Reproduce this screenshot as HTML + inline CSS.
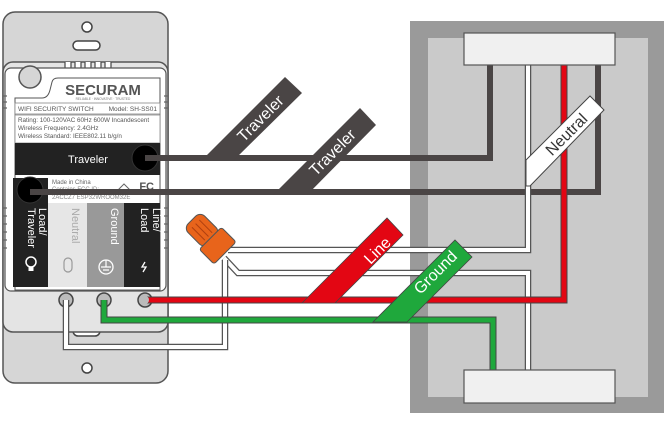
<!DOCTYPE html>
<html><head><meta charset="utf-8"><style>
html,body{margin:0;padding:0;background:#fff;}
svg{display:block;}
text{font-family:"Liberation Sans",sans-serif;}
</style></head><body>
<svg width="668" height="423" viewBox="0 0 668 423" xmlns="http://www.w3.org/2000/svg">
<rect x="410" y="21" width="254" height="392" fill="#9a9a9a"/>
<rect x="428" y="38" width="220" height="359" fill="#cacaca"/>

<rect x="3" y="12" width="165" height="371" rx="12" fill="#d6d6d6" stroke="#555" stroke-width="1.5"/>
<circle cx="87" cy="27" r="5" fill="#fff" stroke="#444" stroke-width="1.5"/>
<rect x="73" y="41" width="27" height="9" rx="4.5" fill="#fff" stroke="#444" stroke-width="1.5"/>
<circle cx="87" cy="368" r="5" fill="#fff" stroke="#444" stroke-width="1.5"/>
<rect x="73" y="326" width="27" height="10" rx="5" fill="#fff" stroke="#444" stroke-width="1.5"/>
<rect x="3" y="62" width="165" height="270" rx="10" fill="#e4e4e4" stroke="#555" stroke-width="1.5"/>
<path d="M65 62 v5 q0 3 3 3 q3 0 3 -3 v-5 M75 62 v5 q0 3 3 3 q3 0 3 -3 v-5 M85 62 v5 q0 3 3 3 q3 0 3 -3 v-5 M95 62 v5 q0 3 3 3 q3 0 3 -3 v-5 M105 62 v5 q0 3 3 3 q3 0 3 -3 v-5" fill="#fff" stroke="#444" stroke-width="1.2"/>
<rect x="5" y="68" width="161" height="223" rx="6" fill="#fff" stroke="#555" stroke-width="1.2"/>
<g fill="none" stroke="#666" stroke-width="1.2">
<path d="M3 96h4M3 102h4M3 108h4M164 96h4M164 102h4M164 108h4"/>
<path d="M3 208h4M3 216h4M3 224h4M3 232h4M3 240h4M3 248h4M164 208h4M164 216h4M164 224h4M164 232h4M164 240h4M164 248h4"/>
</g>
<circle cx="30" cy="77" r="11" fill="#d6d6d6" stroke="#555" stroke-width="1.5"/>
<path d="M15 98 L42 98 Q48 98 50 90 L52 82 Q53 78 58 78 L160 78 L160 290 L15 290 Z" fill="#fff" stroke="#555" stroke-width="1"/>
<text x="103" y="95" font-size="15" font-weight="bold" fill="#555" text-anchor="middle">SECURAM</text>
<text x="103" y="100" font-size="3.2" fill="#777" text-anchor="middle">RELIABLE · INNOVATIVE · TRUSTED</text>
<rect x="15" y="103" width="145" height="11" fill="#fff" stroke="#888" stroke-width="0.8"/>
<text x="18" y="111" font-size="6.5" fill="#555">WIFI SECURITY SWITCH</text>
<text x="157" y="111" font-size="6.5" fill="#555" text-anchor="end">Model: SH-SS01</text>
<rect x="15" y="115" width="145" height="28" fill="#fff" stroke="#888" stroke-width="0.8"/>
<text x="18" y="122" font-size="6.3" fill="#555">Rating: 100-120VAC 60Hz 600W Incandescent</text>
<text x="18" y="130" font-size="6.3" fill="#555">Wireless Frequency: 2.4GHz</text>
<text x="18" y="138" font-size="6.3" fill="#555">Wireless Standard: IEEE802.11 b/g/n</text>
<rect x="15" y="143" width="145" height="32" fill="#222"/>
<text x="88" y="163" font-size="11" fill="#fff" text-anchor="middle">Traveler</text>
<text x="52" y="184" font-size="6" fill="#666">Made in China</text>
<text x="52" y="191" font-size="6" fill="#888">Contains FCC ID:</text>
<text x="52" y="199" font-size="6" fill="#888">2ACCZ7 ESP32WROOM32E</text>
<text x="154" y="190" font-size="11" font-weight="bold" fill="#555" text-anchor="end">FC</text>
<path d="M118 190 l6 -6 l6 6" fill="none" stroke="#666" stroke-width="1"/>
<rect x="13" y="178" width="35" height="109" fill="#222"/>
<rect x="48" y="203" width="39" height="84" fill="#e6e6e6"/>
<rect x="87" y="203" width="37" height="84" fill="#999"/>
<rect x="124" y="203" width="36" height="84" fill="#222"/>
<g font-size="11" text-anchor="start">
<text transform="translate(39,208) rotate(90)" fill="#fff">Load/</text>
<text transform="translate(28,208) rotate(90)" fill="#fff">Traveler</text>
<text transform="translate(72,208) rotate(90)" fill="#aaa">Neutral</text>
<text transform="translate(111,208) rotate(90)" fill="#fff">Ground</text>
<text transform="translate(153,208) rotate(90)" fill="#fff">Line/</text>
<text transform="translate(141,208) rotate(90)" fill="#fff">Load</text>
</g>
<circle cx="31" cy="262" r="5" fill="none" stroke="#fff" stroke-width="1.5"/>
<rect x="28.5" y="267" width="5" height="4" fill="#fff"/>
<rect x="64" y="258" width="8" height="14" rx="4" fill="none" stroke="#999" stroke-width="1.2"/>
<circle cx="106" cy="267" r="7" fill="none" stroke="#fff" stroke-width="1.3"/>
<path d="M106 260 v7 M101 267 h10 M103 270 h6" stroke="#fff" stroke-width="1.2"/>
<path d="M145 262 l-3 5 h4 l-3 5" fill="none" stroke="#fff" stroke-width="1.3"/>
<g fill="#bbb" stroke="#444" stroke-width="1.5">
<circle cx="66" cy="300" r="7"/><circle cx="104" cy="300" r="7"/><circle cx="145" cy="300" r="7"/>
</g>
<circle cx="145" cy="158" r="13" fill="#000" stroke="#333"/>
<circle cx="30" cy="190" r="13" fill="#000" stroke="#333"/>

<g fill="none" stroke-linejoin="miter" stroke-linecap="butt">
<path d="M145 158 H490 V65" stroke="#4a4545" stroke-width="6"/>
<path d="M30 192 H598 V65" stroke="#4a4545" stroke-width="6"/>
<path d="M528 65 V250 H228" stroke="#555" stroke-width="6.5"/>
<path d="M528 65 V250 H228" stroke="#fff" stroke-width="4"/>
<path d="M224 258 L238 273 H528 V370" stroke="#555" stroke-width="6.5"/>
<path d="M224 258 L238 273 H528 V370" stroke="#fff" stroke-width="4"/>
<path d="M66 300 V347 H225 V260" stroke="#555" stroke-width="6.5"/>
<path d="M66 300 V347 H225 V260" stroke="#fff" stroke-width="4"/>
<path d="M145 300 H564 V65" stroke="#444" stroke-width="7"/>
<path d="M145 300 H564 V65" stroke="#e30613" stroke-width="5"/>
<path d="M104 300 V320 H493 V370" stroke="#444" stroke-width="7"/>
<path d="M104 300 V320 H493 V370" stroke="#1fa83c" stroke-width="5"/>
</g>
<circle cx="145" cy="300" r="4" fill="#bbb"/>

<rect x="464" y="33" width="151" height="32" fill="#f0f0f0" stroke="#555" stroke-width="1.2"/>
<rect x="464" y="370" width="151" height="33" fill="#f0f0f0" stroke="#555" stroke-width="1.2"/>

<g transform="translate(214,242) rotate(-45) scale(1.3)">
<rect x="-9" y="-24" width="18" height="22" rx="5" fill="#e8641b" stroke="#555" stroke-width="0.8"/>
<path d="M-4 -20 v14 M0 -20 v14 M4 -20 v14" stroke="#b04010" stroke-width="0.8"/>
<rect x="-12" y="-4" width="24" height="16" rx="2" fill="#e8641b" stroke="#555" stroke-width="0.8"/>
</g>

<!-- labels -->
<polygon points="202,160 285,77 302,93 234,160" fill="#4a4545"/>
<polygon points="273,195 360,108 376,125 307,195" fill="#4a4545"/>
<polygon points="302,303 387,218 403,235 335,303" fill="#e30613" stroke="#444" stroke-width="0.8"/>
<polygon points="373,322 455,240 472,257 407,322" fill="#1fa83c" stroke="#444" stroke-width="0.8"/>
<polygon points="526,186 526,160 590,96 604,110 530,186" fill="#fff" stroke="#444" stroke-width="1"/>
<g font-size="16" text-anchor="middle">
<text transform="translate(260,118) rotate(-45)" x="0" y="6" fill="#fff">Traveler</text>
<text transform="translate(332,152) rotate(-45)" x="0" y="6" fill="#fff">Traveler</text>
<text transform="translate(377,250) rotate(-45)" x="0" y="6" fill="#fff">Line</text>
<text transform="translate(435,272) rotate(-45)" x="0" y="6" fill="#fff">Ground</text>
<text transform="translate(566,134) rotate(-45)" x="0" y="6" fill="#333">Neutral</text>
</g>
</svg>
</body></html>
